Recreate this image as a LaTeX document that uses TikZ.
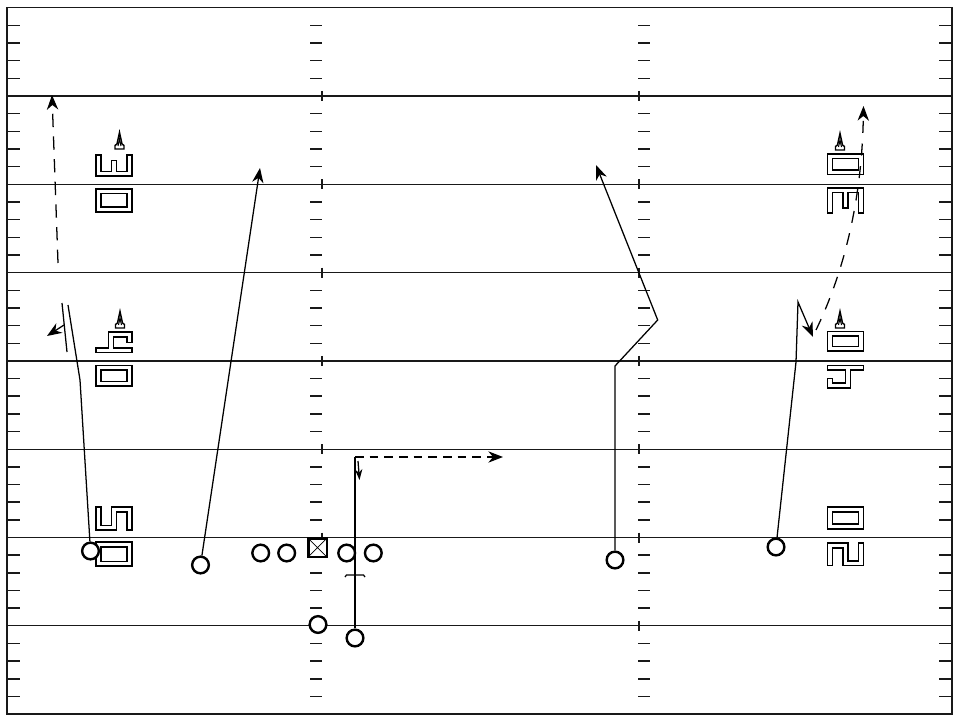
\documentclass[tikz,border=0pt]{standalone}
\usetikzlibrary{arrows.meta}
\begin{document}
\begin{tikzpicture}[x=0.75pt,y=-0.75pt,
  fieldline/.style={line width=1pt, draw=black!90},
  hashmark/.style={line width=1.1pt, draw=black!90},
  digit/.style={line width=2.3pt, draw=white, line cap=rect, line join=miter,
    preaction={draw=black, line width=4.9pt, line cap=rect, line join=miter}},
  pennantline/.style={line width=1.1pt, draw=black, fill=white},
  player/.style={circle, draw=black, line width=1.8pt, fill=white, minimum size=12.5pt, inner sep=0pt},
  centerbox/.style={rectangle, draw=black, line width=2pt, fill=white, minimum size=14pt, inner sep=0pt,
    path picture={\draw[line width=0.5pt] (path picture bounding box.north west) -- (path picture bounding box.south east)
      (path picture bounding box.north east) -- (path picture bounding box.south west);}},
  route/.style={line width=0.95pt, draw=black},
  dashroute/.style={route, dash pattern=on 6.5pt off 4.5pt},
  tip/.style={-{Stealth[length=11pt,width=8.5pt,inset=3.5pt]}},
  pics/pennant/.style={code={
    \draw[pennantline] (-4.5,0) -- (-4.5,-3.5) -- (-2.5,-5) -- (0,-16.5) -- (2.5,-5) -- (4.5,-3.5) -- (4.5,0) -- cycle;
    \draw[line width=0.8pt] (-1.5,-3) -- (0,-10) -- (1.5,-3);}}
]
\useasboundingbox (0,0) rectangle (960,720);
\fill[white] (0,0) rectangle (960,720);

% field border
\draw[fieldline] (7,7.7) rectangle (952,714.1);
% yard lines and inbound ticks
\foreach \k in {1,...,7}{
  \pgfmathsetmacro\yy{7.7+88.3*\k}
  \draw[fieldline] (7,\yy) -- (952,\yy);
  \draw[hashmark] (322,{\yy-5}) -- (322,{\yy+5}) (639,{\yy-5}) -- (639,{\yy+5});
}
% hash marks
\foreach \k in {0,...,7}{
  \foreach \j in {1,...,4}{
    \pgfmathsetmacro\yy{7.7+88.3*\k+17.66*\j}
    \draw[hashmark] (7,\yy) -- (20,\yy) (310,\yy) -- (322,\yy) (638,\yy) -- (650,\yy) (939,\yy) -- (952,\yy);
  }
}

% yard numbers (left)
\draw[digit] (98.5,157.1) -- (98.5,173.9) -- (129.5,173.9) -- (129.5,157.1) (114,162.8) -- (114,173.9);
\draw[digit] (98.5,191.1) rectangle (129.5,209.7);
\draw[digit] (98.5,350.2) -- (129.5,350.2) (111,350.2) -- (111,334.5) -- (129.5,334.5) -- (129.5,340);
\draw[digit] (98.5,367.8) rectangle (129.5,383.9);
\draw[digit] (98.5,509.5) -- (98.5,527.9) -- (114,527.9) -- (114,509.5) -- (129.5,509.5) -- (129.5,527.9);
\draw[digit] (98.5,544.5) rectangle (129.5,563.9);
% yard numbers (right)
\draw[digit] (830,156.1) rectangle (861,172.2);
\draw[digit] (830,210.5) -- (830,190.1) -- (861,190.1) -- (861,210.5) (845.5,190.1) -- (845.5,205.5);
\draw[digit] (830,333.8) rectangle (861,348.9);
\draw[digit] (830,367.8) -- (861,367.8) (848,367.8) -- (848,385.5) -- (830,385.5) -- (830,381);
\draw[digit] (830,509.5) rectangle (861,526.5);
\draw[digit] (830,563.2) -- (830,545.5) -- (845.5,545.5) -- (845.5,563.2) -- (861,563.2) -- (861,545.5);
% direction pennants
\pic at (119.5,149) {pennant};
\pic at (120,328) {pennant};
\pic at (840,150) {pennant};
\pic at (840,328) {pennant};

% players
\node[player] (wrl) at (90.5,551) {};
\node[player] (sl) at (200.5,565) {};
\node[player] (lt) at (260.7,553) {};
\node[player] (lg) at (286.7,553) {};
\node[centerbox] (c) at (317.5,547.7) {};
\node[player] (rg) at (346.7,553) {};
\node[player] (rt) at (373.3,553) {};
\node[player] (qb) at (318,624.5) {};
\node[player] (rb) at (355,638) {};
\node[player] (sr) at (615,560) {};
\node[player] (wrr) at (776,547) {};

% left receiver
\coordinate (lwA) at (80,380);
\coordinate (lwB) at (68,305);
\coordinate (lwC) at (62,303);
\coordinate (lwD) at (67,352);
\coordinate (lwE) at (64,325);
\coordinate (lwF) at (47,336);
\coordinate (lwG) at (58,263);
\coordinate (lwH) at (52,95);
\draw[route] (wrl) -- (lwA) -- (lwB);
\draw[route] (lwC) -- (lwD);
\draw[route, tip] (lwE) -- (lwF);
\draw[route, tip, dash pattern=on 10pt off 7pt] (lwG) -- (lwH);

% left slot
\coordinate (slT) at (260,168);
\draw[route, tip] (sl) -- (slT);

% running back
\coordinate (rbA) at (355,457);
\coordinate (rbB) at (503,457);
\coordinate (rbC) at (358,461);
\coordinate (rbD) at (359.5,480);
\draw[route] (rb) -- (rbA);
\draw[dashroute, tip] (rbA) -- (rbB);
\draw[route, -{Stealth[length=8pt,width=5.5pt,inset=2.5pt]}] (rbC) -- (rbD);
\draw[route] (345,577) -- (346.5,575) -- (363.5,575) -- (365,577);

% right slot
\coordinate (srA) at (615,366);
\coordinate (srB) at (657.7,320);
\coordinate (srC) at (596,165);
\draw[route, tip] (sr) -- (srA) -- (srB) -- (srC);

% right receiver
\coordinate (wrrA) at (796,362);
\coordinate (wrrB) at (798,302);
\coordinate (wrrC) at (813,337);
\coordinate (wrrD) at (816,330);
\coordinate (wrrE) at (863.5,106);
\draw[route, tip] (wrr) -- (wrrA) -- (wrrB) -- (wrrC);
\draw[route, tip, dash pattern=on 9pt off 8pt] (wrrD) .. controls (844,272) and (862,200) .. (wrrE);
\end{tikzpicture}
\end{document}
